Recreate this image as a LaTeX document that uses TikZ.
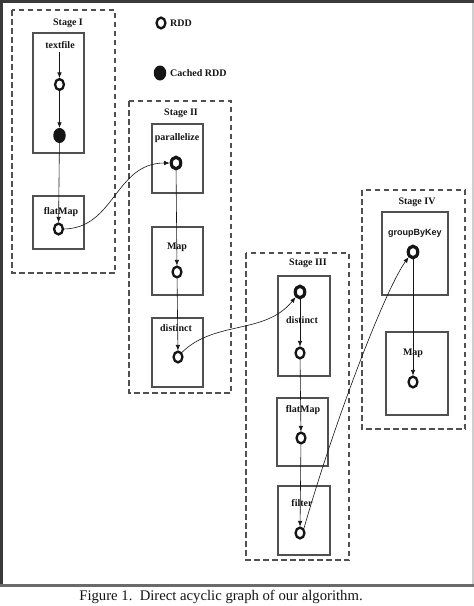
\documentclass[tikz,border=0pt]{standalone}
\usepackage{fontspec}
\setmainfont{Liberation Serif}
\newfontfamily\lsans{Liberation Sans}
\usetikzlibrary{arrows.meta,shapes.geometric}
\definecolor{framedark}{HTML}{3A3A3A}
\definecolor{framemid}{HTML}{6A6A6A}
\definecolor{framelight}{HTML}{CFCFCF}
\definecolor{linegray}{HTML}{505050}
\definecolor{inkc}{HTML}{151515}
\tikzset{
  stagebox/.style={draw=linegray, line width=1.3pt, dash pattern=on 5.5pt off 3.5pt},
  opbox/.style={draw=linegray, line width=1.1pt},
  lbl/.style={font=\fontsize{10}{11}\selectfont\bfseries, text=inkc, inner sep=0pt},
  rdd/.style={ellipse, draw=inkc, line width=2.3pt, minimum width=8.8pt, minimum height=10.8pt, inner sep=0pt},
  rddthick/.style={rdd, line width=3.2pt, minimum width=9.5pt, minimum height=11.5pt},
  cached/.style={ellipse, fill=inkc, minimum width=12.5pt, minimum height=15pt, inner sep=0pt},
  flow/.style={draw=inkc, line width=0.6pt, -{Latex[length=5.5pt,width=4.5pt]}},
}
\begin{document}
\begin{tikzpicture}[x=1pt,y=-1pt]
\useasboundingbox (0,0) rectangle (474,606);
\fill[white] (0,0) rectangle (474,606);
% frame
\fill[framedark] (0,0) rectangle (474,2.5);
\fill[framedark] (0,0) rectangle (2.5,586);
\fill[framelight] (471.5,2.5) rectangle (474,584);
\fill[framemid] (0,583.5) rectangle (474,586.5);

% stage boxes
\draw[stagebox] (12,10) rectangle (115,273);
\draw[stagebox] (129,101) rectangle (231,393);
\draw[stagebox] (246,253) rectangle (349,560);
\draw[stagebox] (362,190) rectangle (465,429);
\node[lbl] (s1) at (68,23) {Stage I};
\node[lbl] (s2) at (181,113) {Stage II};
\node[lbl] (s3) at (308,263) {Stage III};
\node[lbl] (s4) at (417,202) {Stage IV};

% operation boxes
\draw[opbox] (33,33) rectangle (84,153);
\draw[opbox] (33,196) rectangle (84,249);
\draw[opbox] (152,124) rectangle (203,193);
\draw[opbox] (152,227) rectangle (203,295);
\draw[opbox] (152,318) rectangle (203,387);
\draw[opbox] (278,276) rectangle (330,376);
\draw[opbox] (277,398) rectangle (328,466);
\draw[opbox] (278,486) rectangle (330,555);
\draw[opbox] (382,212) rectangle (448,295);
\draw[opbox] (386,332) rectangle (448,415);

% operation labels
\node[lbl] (ltext) at (60,45) {textfile};
\node[lbl] (lfm1) at (61,212) {flatMap};
\node[lbl] (lpar) at (177,138) {parallelize};
\node[lbl] (lmap2) at (177,247) {Map};
\node[lbl] (ldis2) at (176,328) {distinct};
\node[lbl] (ldis3) at (302,320) {distinct};
\node[lbl] (lfm3) at (303,410) {flatMap};
\node[lbl] (lfil) at (302,503) {filter};
\node[lbl, font=\lsans\fontsize{9}{10}\selectfont\bfseries] (lgbk) at (415,233) {groupByKey};
\node[lbl] (lmap4) at (413,353) {Map};

% legend
\node[rdd] (legr) at (161,23) {};
\node[lbl, anchor=west] (legrt) at (170,23) {RDD};
\node[cached] (legc) at (160,73) {};
\node[lbl, anchor=west] (legct) at (170,73) {Cached RDD};

% RDD circles
\coordinate (tstart) at (59.5,52);
\node[rdd] (c1) at (59.5,84.5) {};
\node[cached] (c2) at (59.5,135.5) {};
\node[rdd] (c3) at (58.5,229) {};
\node[rddthick] (p1) at (176,163) {};
\node[rdd] (p2) at (177,272) {};
\node[rdd] (p3) at (178,357) {};
\node[rddthick] (d1) at (300,292) {};
\node[rdd] (d2) at (300,353) {};
\node[rdd] (d3) at (301,438) {};
\node[rdd] (d4) at (300,533) {};
\node[rddthick] (g1) at (413,252) {};
\node[rdd] (g2) at (413,382) {};

% vertical flows
\draw[flow] (tstart) -- (c1);
\draw[flow] (c1) -- (c2);
\draw[flow] (c2) -- (c3);
\draw[flow] (p1) -- (p2);
\draw[flow] (p2) -- (p3);
\draw[flow] (d1) -- (d2);
\draw[flow] (d2) -- (d3);
\draw[flow] (d3) -- (d4);
\draw[flow] (g1) -- (g2);

% cross-stage flows
\draw[flow] (c3.east) .. controls (115,228) and (115,163) .. (p1.west);
\draw[flow] (p3.north east) .. controls (215,320) and (265,335) .. (d1.south west);
\draw[flow] (d4.north east) .. controls (335,420) and (385,290) .. (g1.south west);

% caption
\node[font=\fontsize{14.7}{16}\selectfont, text=inkc, inner sep=0pt] (cap) at (221,597) {Figure 1.\ \ Direct acyclic graph of our algorithm.};
\end{tikzpicture}
\end{document}
